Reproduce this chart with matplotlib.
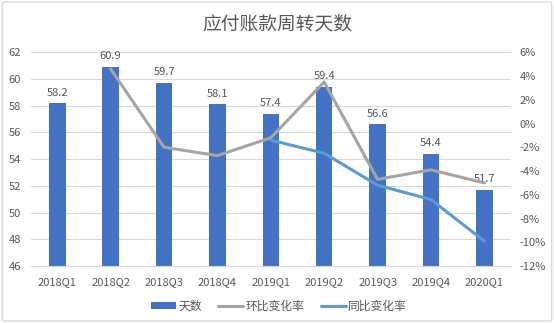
import matplotlib
matplotlib.use('Agg')
import matplotlib.pyplot as plt
from matplotlib.patches import FancyBboxPatch
import numpy as np

plt.rcParams['font.family'] = ['Noto Sans CJK SC', 'DejaVu Sans']

# 应付账款周转天数 by quarter
quarters = ['2018Q1', '2018Q2', '2018Q3', '2018Q4', '2019Q1',
            '2019Q2', '2019Q3', '2019Q4', '2020Q1']
days = [58.2, 60.9, 59.7, 58.1, 57.4, 59.4, 56.6, 54.4, 51.7]
# 环比 (quarter on quarter) change, %, starts at 2018Q2
qoq_pct = [None, 4.6, -2.0, -2.7, -1.2, 3.5, -4.7, -3.9, -5.0]
# 同比 (year on year) change, %, starts at 2019Q1
yoy_pct = [None, None, None, None, -1.4, -2.5, -5.2, -6.4, -9.9]

left_ticks = [46, 48, 50, 52, 54, 56, 58, 60, 62]
right_ticks = [-12, -10, -8, -6, -4, -2, 0, 2, 4, 6]

bar_color = '#4472C4'
qoq_color = '#A5A5A5'
yoy_color = '#5B9BD5'
text_color = '#595959'
grid_color = '#D9D9D9'

fig = plt.figure(figsize=(5.54, 3.23), dpi=100)
ax = fig.add_axes([0.0552, 0.1765, 0.8672, 0.6615])
ax2 = ax.twinx()

x = np.arange(len(quarters))
bars = ax.bar(x, days, width=0.31, color=bar_color, label='天数', zorder=2)

for xi, v in zip(x, days):
    ax.annotate(f'{v:.1f}', (xi, v), xytext=(0, 4), textcoords='offset points',
                ha='center', va='bottom', fontsize=8, color=text_color)

qoq_x = [xi for xi, v in zip(x, qoq_pct) if v is not None]
qoq_y = [v for v in qoq_pct if v is not None]
yoy_x = [xi for xi, v in zip(x, yoy_pct) if v is not None]
yoy_y = [v for v in yoy_pct if v is not None]
l1, = ax2.plot(qoq_x, qoq_y, color=qoq_color, lw=2.2, label='环比变化率',
               solid_capstyle='round', zorder=3)
l2, = ax2.plot(yoy_x, yoy_y, color=yoy_color, lw=2.2, label='同比变化率',
               solid_capstyle='round', zorder=3)

ax.set_xlim(-0.5, len(quarters) - 0.5)
ax.set_ylim(46, 62)
ax.set_yticks(left_ticks)
ax.set_xticks(x)
ax.set_xticklabels(quarters)
ax2.set_ylim(-12, 6)
ax2.set_yticks(right_ticks)
ax2.set_yticklabels([f'{t}%' for t in right_ticks])

ax.grid(axis='y', color=grid_color, lw=0.8, zorder=0)
ax.set_axisbelow(True)
for a in (ax, ax2):
    for s in a.spines.values():
        s.set_visible(False)
    a.tick_params(length=0, labelsize=8, labelcolor=text_color)
ax.spines['bottom'].set_visible(True)
ax.spines['bottom'].set_color(grid_color)
ax.tick_params(axis='y', pad=7)
ax.tick_params(axis='x', pad=8)
ax2.tick_params(axis='y', pad=6)

fig.text(0.5, 1 - 24 / 323, '应付账款周转天数', ha='center', va='center',
         fontsize=13.5, color=text_color)

fig.legend(handles=[bars, l1, l2], loc='center', ncol=3,
           bbox_to_anchor=(279 / 554, 1 - 306 / 323), frameon=False,
           fontsize=8.5, labelcolor=text_color, handlelength=2.1,
           handletextpad=0.2, columnspacing=1.4, handleheight=0.5)

# light frame around the whole chart
fig.patches.append(FancyBboxPatch((0.004, 0.006), 0.992, 0.988,
                                  boxstyle='round,pad=0,rounding_size=0.004',
                                  transform=fig.transFigure, fill=False,
                                  edgecolor=grid_color, lw=1.0))

fig.savefig('out.png', dpi=100)
plt.close(fig)
